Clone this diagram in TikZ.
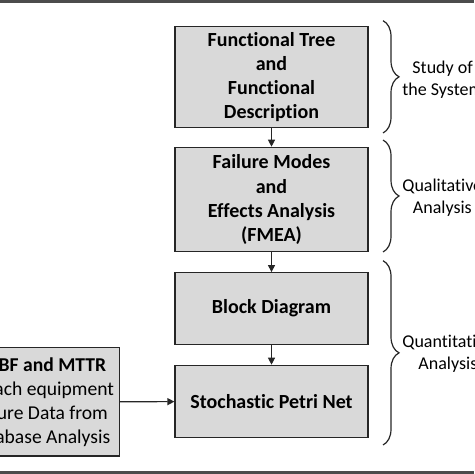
\documentclass[tikz,border=0pt]{standalone}
\usepackage{fontspec}
\setmainfont[Ligatures=NoCommon]{Carlito}
\usetikzlibrary{arrows.meta,decorations.pathreplacing}

\begin{document}
\begin{tikzpicture}[x=0.5pt,y=-0.5pt,
        box/.style={draw=black!85,fill=black!15,line width=0.6pt,align=center,inner sep=0pt,
            font=\bfseries\fontsize{10}{12}\selectfont,minimum width=96.5pt},
        flow/.style={-{Triangle[length=3.5pt,width=3.5pt]},line width=0.6pt,draw=black!85},
        curly/.style={decorate,decoration={brace,amplitude=8pt},line width=0.6pt,draw=black!85},
        phase/.style={anchor=west,align=center,inner sep=0pt,font=\fontsize{9}{11}\selectfont}]
                \useasboundingbox (0,0) rectangle (474,474);
                \clip (0,0) rectangle (474,474);
                \fill[black!70] (0,0) rectangle (474,2.7);
                \fill[black!70] (0,470.5) rectangle (474,474);

                \node[box,minimum height=50.5pt] (tree) at (271.5,77.2) {Functional Tree\\and\\Functional\\Description};
                \node[box,minimum height=52.2pt] (fmea) at (271.5,199.5) {Failure Modes\\and\\Effects Analysis\\(FMEA)};
                \node[box,minimum height=35.8pt] (block) at (271.5,308.5) {Block Diagram};
                \node[box,minimum height=36.2pt] (spn) at (271.5,401.5) {Stochastic Petri Net};
                \node[box,minimum width=80.4pt,minimum height=54.2pt,font=\fontsize{9.8}{12}\selectfont] (mtbf) at (39,401.8)
                    {\textbf{MTBF and MTTR}\\of each equipment\\Failure Data from\\Database Analysis};

                \draw[flow] (tree) -- (fmea);
                \draw[flow] (fmea) -- (block);
                \draw[flow] (block) -- (spn);
                \draw[flow] (mtbf) -- (spn);

                \draw[curly] (383,20.7) -- (383,133);
                \draw[curly] (383,140) -- (383,252);
                \draw[curly] (383,260.7) -- (383,445);

                \node[phase] (study) at (402,80) {Study of\\the System};
                \node[phase] (quali) at (402,198) {Qualitative\\Analysis};
                \node[phase] (quanti) at (402,354) {Quantitative\\Analysis};
            \end{tikzpicture}
\end{document}
